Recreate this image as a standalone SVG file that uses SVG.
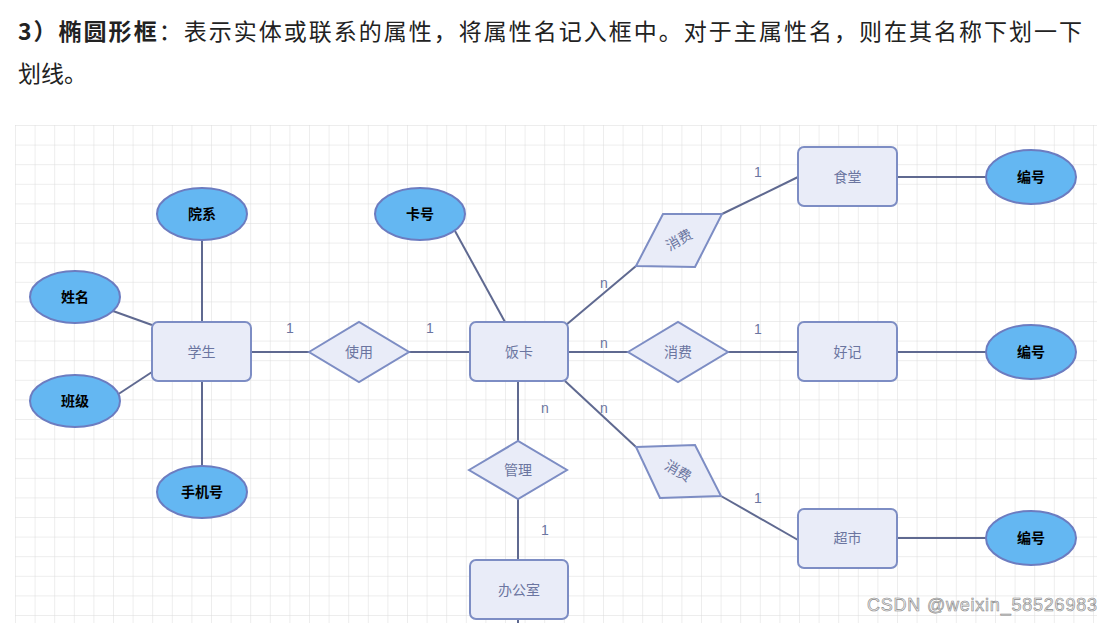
<svg xmlns="http://www.w3.org/2000/svg" width="1114" height="623" viewBox="0 0 1114 623">
<defs>
<pattern id="grid" x="15" y="125" width="19.6" height="19.6" patternUnits="userSpaceOnUse">
<path d="M0 0H19.6M0 0V19.6" fill="none" stroke="#dcdcdc" stroke-width="1"/>
</pattern>
<style>
.ent{fill:#e9ecf8;stroke:#7d8dc4;stroke-width:2}
.rel{fill:#e9ecf8;stroke:#7d8dc4;stroke-width:2}
.att{fill:#64b7f2;stroke:#6c7cc0;stroke-width:2}
.lt{font-family:"Liberation Sans","Noto Sans CJK SC",sans-serif;font-size:14px;fill:#6b75a0;text-anchor:middle;dominant-baseline:central}
.at{font-family:"Liberation Sans","Noto Sans CJK SC",sans-serif;font-size:14px;font-weight:bold;fill:#000;text-anchor:middle;dominant-baseline:central}
.card{font-family:"Liberation Sans",sans-serif;font-size:14px;fill:#6b75a0}
#conn line{stroke:#5f6990;stroke-width:2}
.hd{font-family:"Noto Sans CJK SC","Noto Sans",sans-serif;font-size:23px;fill:#222}
</style>
</defs>
<rect width="1114" height="623" fill="#fff"/>
<rect x="15" y="125" width="1082" height="498" fill="url(#grid)"/>
<text class="hd" x="18" y="40" textLength="1064"><tspan font-weight="bold">3）椭圆形框</tspan>：表示实体或联系的属性，将属性名记入框中。对于主属性名，则在其名称下划一下</text>
<text class="hd" x="18" y="82">划线。</text>
<g id="conn">
<line x1="202" y1="240" x2="202" y2="322"/>
<line x1="113" y1="311" x2="152" y2="325"/>
<line x1="117" y1="395" x2="152" y2="372"/>
<line x1="202" y1="381" x2="202" y2="466"/>
<line x1="251" y1="352" x2="309" y2="352"/>
<line x1="409" y1="352" x2="470" y2="352"/>
<line x1="455" y1="231" x2="505" y2="322"/>
<line x1="566" y1="325" x2="636" y2="266"/>
<line x1="722" y1="214" x2="798" y2="177"/>
<line x1="568" y1="352" x2="628" y2="352"/>
<line x1="728" y1="352" x2="798" y2="352"/>
<line x1="897" y1="177" x2="986" y2="177"/>
<line x1="897" y1="352" x2="986" y2="352"/>
<line x1="897" y1="538" x2="986" y2="538"/>
<line x1="518" y1="381" x2="518" y2="441"/>
<line x1="518" y1="499" x2="518" y2="560"/>
<line x1="518" y1="619" x2="518" y2="623"/>
<line x1="565" y1="381" x2="636" y2="447"/>
<line x1="721" y1="496" x2="798" y2="540"/>
</g>
<g id="labels">
<text class="card" x="286" y="333">1</text>
<text class="card" x="426" y="333">1</text>
<text class="card" x="600" y="288">n</text>
<text class="card" x="754" y="177">1</text>
<text class="card" x="600" y="348">n</text>
<text class="card" x="754" y="334">1</text>
<text class="card" x="541" y="413">n</text>
<text class="card" x="600" y="413">n</text>
<text class="card" x="754" y="503">1</text>
<text class="card" x="541" y="535">1</text>
</g>
<g id="xuesheng"><rect class="ent" x="152" y="322" width="99" height="59" rx="6"/><text class="lt" x="201.5" y="352">学生</text></g>
<g id="fanka"><rect class="ent" x="470" y="322" width="98" height="59" rx="6"/><text class="lt" x="519" y="352">饭卡</text></g>
<g id="haoji"><rect class="ent" x="798" y="322" width="99" height="59" rx="6"/><text class="lt" x="847.5" y="352">好记</text></g>
<g id="shitang"><rect class="ent" x="798" y="147" width="99" height="59" rx="6"/><text class="lt" x="847.5" y="177">食堂</text></g>
<g id="chaoshi"><rect class="ent" x="798" y="509" width="99" height="59" rx="6"/><text class="lt" x="847.5" y="538">超市</text></g>
<g id="bangongshi"><rect class="ent" x="470" y="560" width="98" height="59" rx="6"/><text class="lt" x="519" y="590">办公室</text></g>
<g id="shiyong"><polygon class="rel" points="309,352 359,322 409,352 359,382"/><text class="lt" x="359" y="352">使用</text></g>
<g id="xiaofei2"><polygon class="rel" points="628,352 678,322 728,352 678,382"/><text class="lt" x="678" y="352">消费</text></g>
<g id="guanli"><polygon class="rel" points="469,470 518,441 567,470 518,499"/><text class="lt" x="518" y="470">管理</text></g>
<g id="xiaofei1"><polygon class="rel" points="636,266 663,214 722,214 695,267"/><text class="lt" x="679" y="240" transform="rotate(-30 679 240)">消费</text></g>
<g id="xiaofei3"><polygon class="rel" points="636,447 695,445 721,496 660,498"/><text class="lt" x="678" y="471" transform="rotate(30 678 471)">消费</text></g>
<g id="yuanxi"><ellipse class="att" cx="202" cy="214" rx="45" ry="26"/><text class="at" x="202" y="214">院系</text></g>
<g id="xingming"><ellipse class="att" cx="75" cy="297" rx="45" ry="26"/><text class="at" x="75" y="297">姓名</text></g>
<g id="banji"><ellipse class="att" cx="75" cy="401" rx="45" ry="26"/><text class="at" x="75" y="401">班级</text></g>
<g id="shoujihao"><ellipse class="att" cx="202" cy="492" rx="45" ry="26"/><text class="at" x="202" y="492">手机号</text></g>
<g id="kahao"><ellipse class="att" cx="420" cy="214" rx="45" ry="26"/><text class="at" x="420" y="214">卡号</text></g>
<g id="bianhao1"><ellipse class="att" cx="1031" cy="177" rx="45" ry="27"/><text class="at" x="1031" y="177">编号</text></g>
<g id="bianhao2"><ellipse class="att" cx="1031" cy="352" rx="45" ry="27"/><text class="at" x="1031" y="352">编号</text></g>
<g id="bianhao3"><ellipse class="att" cx="1031" cy="538" rx="45" ry="27"/><text class="at" x="1031" y="538">编号</text></g>
<text x="867" y="611" font-family="Liberation Sans,sans-serif" font-size="18" fill="#ececec" stroke="#888" stroke-width="0.6" textLength="230">CSDN @weixin_58526983</text>
</svg>
